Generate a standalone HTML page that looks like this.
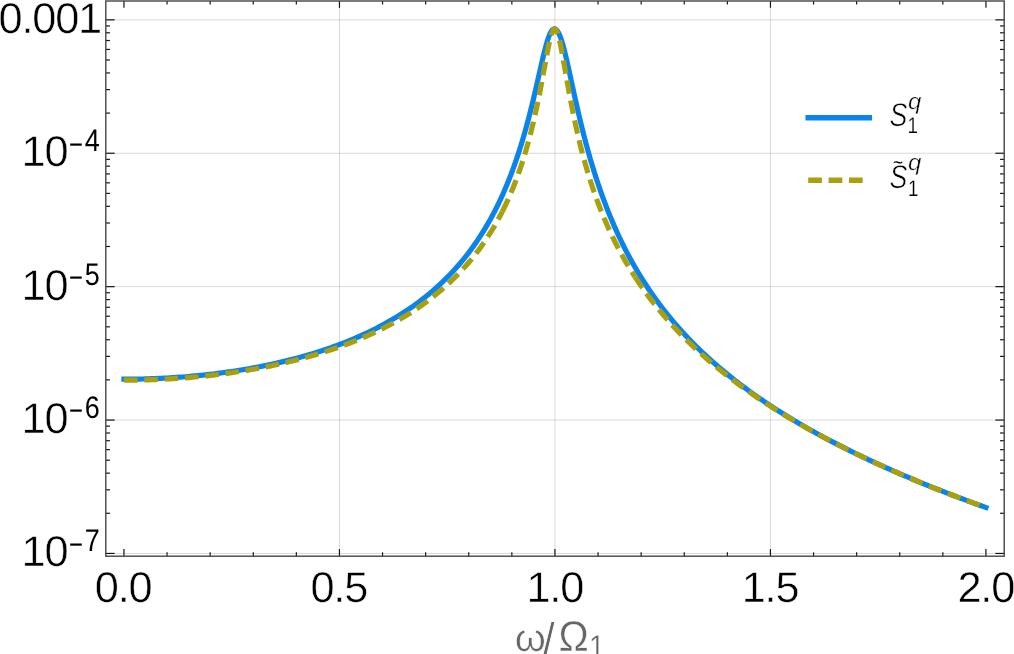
<!DOCTYPE html>
<html><head><meta charset="utf-8"><title>plot</title>
<style>html,body{margin:0;padding:0;background:#fff}svg{display:block}text{font-family:"Liberation Sans",sans-serif;fill:#000;text-rendering:geometricPrecision}</style></head><body>
<svg width="1014" height="654" viewBox="0 0 1014 654">
<rect width="1014" height="654" fill="#fff"/>
<g stroke="#000" stroke-opacity="0.15" stroke-width="1" fill="none">
<line x1="339.45" y1="1.00" x2="339.45" y2="556.20"/>
<line x1="554.95" y1="1.00" x2="554.95" y2="556.20"/>
<line x1="770.45" y1="1.00" x2="770.45" y2="556.20"/>
<line x1="105.80" y1="553.45" x2="1004.20" y2="553.45"/>
<line x1="105.80" y1="420.05" x2="1004.20" y2="420.05"/>
<line x1="105.80" y1="286.65" x2="1004.20" y2="286.65"/>
<line x1="105.80" y1="153.25" x2="1004.20" y2="153.25"/>
<line x1="105.80" y1="19.85" x2="1004.20" y2="19.85"/>
</g>
<path d="M123.95 379.19 L127.03 379.19 L130.11 379.17 L133.19 379.14 L136.26 379.10 L139.34 379.04 L142.42 378.98 L145.50 378.90 L148.58 378.80 L151.66 378.70 L154.74 378.58 L157.81 378.46 L160.89 378.32 L163.97 378.16 L167.05 378.00 L170.13 377.82 L173.21 377.63 L176.29 377.42 L179.36 377.21 L182.44 376.98 L185.52 376.73 L188.60 376.48 L191.68 376.21 L194.76 375.93 L197.84 375.63 L200.91 375.33 L203.99 375.01 L207.07 374.67 L210.15 374.32 L213.23 373.96 L216.31 373.58 L219.39 373.19 L222.46 372.79 L225.54 372.37 L228.62 371.93 L231.70 371.48 L234.78 371.02 L237.86 370.54 L240.94 370.05 L244.01 369.54 L247.09 369.01 L250.17 368.47 L253.25 367.91 L256.33 367.34 L259.41 366.75 L262.49 366.14 L265.56 365.52 L268.64 364.88 L271.72 364.22 L274.80 363.54 L277.88 362.84 L280.96 362.13 L284.04 361.40 L287.11 360.65 L290.19 359.87 L293.27 359.08 L296.35 358.27 L299.43 357.44 L302.51 356.59 L305.59 355.71 L308.66 354.81 L311.74 353.89 L314.82 352.95 L317.90 351.98 L320.98 350.99 L324.06 349.98 L327.14 348.94 L330.21 347.87 L333.29 346.78 L336.37 345.66 L339.45 344.51 L342.53 343.34 L345.61 342.13 L348.69 340.90 L351.76 339.63 L354.84 338.33 L357.92 337.00 L361.00 335.63 L364.08 334.23 L367.16 332.80 L370.24 331.32 L373.31 329.81 L376.39 328.26 L379.47 326.67 L382.55 325.04 L385.63 323.36 L388.71 321.64 L391.79 319.87 L394.86 318.05 L397.94 316.18 L401.02 314.26 L404.10 312.28 L407.18 310.25 L410.26 308.16 L413.34 306.01 L416.41 303.79 L419.49 301.51 L422.57 299.15 L425.65 296.73 L428.73 294.22 L431.81 291.64 L434.89 288.97 L437.96 286.21 L441.04 283.36 L444.12 280.42 L447.20 277.37 L450.28 274.21 L453.36 270.93 L456.44 267.53 L459.51 264.01 L462.59 260.34 L465.67 256.54 L468.75 252.57 L471.83 248.44 L474.91 244.13 L477.99 239.63 L481.06 234.93 L484.14 230.00 L487.22 224.84 L490.30 219.43 L490.62 218.84 L490.95 218.25 L491.27 217.66 L491.60 217.06 L491.92 216.47 L492.24 215.86 L492.57 215.26 L492.89 214.65 L493.22 214.04 L493.54 213.42 L493.86 212.81 L494.19 212.18 L494.51 211.56 L494.84 210.93 L495.16 210.30 L495.48 209.66 L495.81 209.02 L496.13 208.38 L496.46 207.74 L496.78 207.09 L497.11 206.43 L497.43 205.78 L497.75 205.12 L498.08 204.45 L498.40 203.78 L498.73 203.11 L499.05 202.43 L499.37 201.75 L499.70 201.07 L500.02 200.38 L500.35 199.69 L500.67 198.99 L500.99 198.29 L501.32 197.59 L501.64 196.88 L501.97 196.17 L502.29 195.45 L502.61 194.73 L502.94 194.00 L503.26 193.27 L503.59 192.54 L503.91 191.80 L504.23 191.06 L504.56 190.31 L504.88 189.56 L505.21 188.80 L505.53 188.04 L505.85 187.27 L506.18 186.50 L506.50 185.73 L506.83 184.94 L507.15 184.16 L507.48 183.37 L507.80 182.57 L508.12 181.77 L508.45 180.97 L508.77 180.15 L509.10 179.34 L509.42 178.52 L509.74 177.69 L510.07 176.86 L510.39 176.02 L510.72 175.18 L511.04 174.33 L511.36 173.47 L511.69 172.61 L512.01 171.75 L512.34 170.88 L512.66 170.00 L512.98 169.12 L513.31 168.23 L513.63 167.33 L513.96 166.43 L514.28 165.52 L514.60 164.61 L514.93 163.69 L515.25 162.76 L515.58 161.83 L515.90 160.89 L516.22 159.95 L516.55 159.00 L516.87 158.04 L517.20 157.07 L517.52 156.10 L517.85 155.12 L518.17 154.14 L518.49 153.15 L518.82 152.15 L519.14 151.14 L519.47 150.13 L519.79 149.11 L520.11 148.08 L520.44 147.05 L520.76 146.00 L521.09 144.95 L521.41 143.90 L521.73 142.83 L522.06 141.76 L522.38 140.68 L522.71 139.59 L523.03 138.50 L523.35 137.40 L523.68 136.29 L524.00 135.17 L524.33 134.04 L524.65 132.91 L524.97 131.76 L525.30 130.61 L525.62 129.45 L525.95 128.29 L526.27 127.11 L526.59 125.93 L526.92 124.74 L527.24 123.54 L527.57 122.33 L527.89 121.11 L528.22 119.88 L528.54 118.65 L528.86 117.41 L529.19 116.16 L529.51 114.90 L529.84 113.63 L530.16 112.36 L530.48 111.08 L530.81 109.79 L531.13 108.49 L531.46 107.18 L531.78 105.86 L532.10 104.54 L532.43 103.21 L532.75 101.87 L533.08 100.52 L533.40 99.17 L533.72 97.81 L534.05 96.44 L534.37 95.07 L534.70 93.69 L535.02 92.30 L535.34 90.91 L535.67 89.51 L535.99 88.11 L536.32 86.70 L536.64 85.28 L536.96 83.87 L537.29 82.44 L537.61 81.02 L537.94 79.59 L538.26 78.16 L538.58 76.73 L538.91 75.30 L539.23 73.86 L539.56 72.43 L539.88 71.00 L540.21 69.57 L540.53 68.15 L540.85 66.72 L541.18 65.31 L541.50 63.90 L541.83 62.49 L542.15 61.09 L542.47 59.71 L542.80 58.33 L543.12 56.97 L543.45 55.62 L543.77 54.28 L544.09 52.96 L544.42 51.66 L544.74 50.37 L545.07 49.11 L545.39 47.87 L545.71 46.66 L546.04 45.47 L546.36 44.31 L546.69 43.18 L547.01 42.08 L547.33 41.01 L547.66 39.98 L547.98 38.99 L548.31 38.03 L548.63 37.12 L548.95 36.24 L549.28 35.41 L549.60 34.63 L549.93 33.89 L550.25 33.20 L550.58 32.56 L550.90 31.96 L551.22 31.42 L551.55 30.93 L551.87 30.50 L552.20 30.11 L552.52 29.78 L552.84 29.51 L553.17 29.28 L553.49 29.11 L553.82 28.99 L554.14 28.93 L554.46 28.91 L554.79 28.95 L555.11 29.04 L555.44 29.17 L555.76 29.35 L556.08 29.57 L556.41 29.85 L556.73 30.17 L557.06 30.54 L557.38 30.95 L557.70 31.42 L558.03 31.93 L558.35 32.49 L558.68 33.10 L559.00 33.75 L559.32 34.45 L559.65 35.19 L559.97 35.98 L560.30 36.82 L560.62 37.69 L560.95 38.61 L561.27 39.56 L561.59 40.55 L561.92 41.58 L562.24 42.65 L562.57 43.75 L562.89 44.88 L563.21 46.04 L563.54 47.24 L563.86 48.46 L564.19 49.70 L564.51 50.97 L564.83 52.27 L565.16 53.58 L565.48 54.92 L565.81 56.27 L566.13 57.65 L566.45 59.03 L566.78 60.44 L567.10 61.85 L567.43 63.28 L567.75 64.72 L568.07 66.17 L568.40 67.63 L568.72 69.09 L569.05 70.56 L569.37 72.04 L569.69 73.52 L570.02 75.01 L570.34 76.50 L570.67 77.99 L570.99 79.48 L571.32 80.97 L571.64 82.46 L571.96 83.96 L572.29 85.45 L572.61 86.94 L572.94 88.42 L573.26 89.91 L573.58 91.39 L573.91 92.86 L574.23 94.34 L574.56 95.81 L574.88 97.27 L575.20 98.73 L575.53 100.19 L575.85 101.63 L576.18 103.08 L576.50 104.51 L576.82 105.94 L577.15 107.37 L577.47 108.78 L577.80 110.19 L578.12 111.60 L578.44 112.99 L578.77 114.38 L579.09 115.77 L579.42 117.14 L579.74 118.51 L580.06 119.87 L580.39 121.22 L580.71 122.56 L581.04 123.90 L581.36 125.23 L581.68 126.55 L582.01 127.87 L582.33 129.17 L582.66 130.47 L582.98 131.76 L583.31 133.04 L583.63 134.32 L583.95 135.58 L584.28 136.84 L584.60 138.10 L584.93 139.34 L585.25 140.58 L585.57 141.80 L585.90 143.03 L586.22 144.24 L586.55 145.44 L586.87 146.64 L587.19 147.83 L587.52 149.02 L587.84 150.19 L588.17 151.36 L588.49 152.52 L588.81 153.68 L589.14 154.82 L589.46 155.96 L589.79 157.10 L590.11 158.22 L590.43 159.34 L590.76 160.45 L591.08 161.56 L591.41 162.65 L591.73 163.75 L592.05 164.83 L592.38 165.91 L592.70 166.98 L593.03 168.04 L593.35 169.10 L593.68 170.15 L594.00 171.20 L594.32 172.24 L594.65 173.27 L594.97 174.30 L595.30 175.32 L595.62 176.33 L595.94 177.34 L596.27 178.34 L596.59 179.34 L596.92 180.33 L597.24 181.31 L597.56 182.29 L597.89 183.26 L598.21 184.23 L598.54 185.19 L598.86 186.15 L599.18 187.10 L599.51 188.04 L599.83 188.98 L600.16 189.92 L600.48 190.85 L600.80 191.77 L601.13 192.69 L601.45 193.60 L601.78 194.51 L602.10 195.41 L602.42 196.31 L602.75 197.20 L603.07 198.09 L603.40 198.97 L603.72 199.85 L604.05 200.72 L604.37 201.59 L604.69 202.46 L605.02 203.31 L605.34 204.17 L605.67 205.02 L605.99 205.86 L606.31 206.71 L606.64 207.54 L606.96 208.37 L607.29 209.20 L607.61 210.02 L607.93 210.84 L608.26 211.66 L608.58 212.47 L608.91 213.27 L609.23 214.08 L609.55 214.87 L609.88 215.67 L610.20 216.46 L610.53 217.24 L610.85 218.02 L611.17 218.80 L611.50 219.58 L611.82 220.35 L612.15 221.11 L612.47 221.87 L612.79 222.63 L613.12 223.39 L613.44 224.14 L613.77 224.89 L614.09 225.63 L614.42 226.37 L614.74 227.11 L615.06 227.84 L615.39 228.57 L615.71 229.30 L616.04 230.02 L616.36 230.74 L616.68 231.45 L617.01 232.17 L617.33 232.88 L617.66 233.58 L617.98 234.28 L618.30 234.98 L618.63 235.68 L618.95 236.37 L619.28 237.06 L619.60 237.75 L622.06 242.86 L624.52 247.79 L626.98 252.57 L629.43 257.20 L631.89 261.69 L634.35 266.04 L636.81 270.27 L639.27 274.38 L641.73 278.37 L644.19 282.26 L646.65 286.04 L649.10 289.73 L651.56 293.32 L654.02 296.83 L656.48 300.25 L658.94 303.58 L661.40 306.85 L663.86 310.03 L666.32 313.15 L668.77 316.20 L671.23 319.19 L673.69 322.11 L676.15 324.98 L678.61 327.78 L681.07 330.53 L683.53 333.23 L685.99 335.88 L688.44 338.48 L690.90 341.03 L693.36 343.53 L695.82 346.00 L698.28 348.42 L700.74 350.79 L703.20 353.13 L705.66 355.43 L708.11 357.70 L710.57 359.93 L713.03 362.12 L715.49 364.28 L717.95 366.41 L720.41 368.51 L722.87 370.57 L725.33 372.61 L727.78 374.62 L730.24 376.60 L732.70 378.55 L735.16 380.48 L737.62 382.38 L740.08 384.26 L742.54 386.11 L744.99 387.94 L747.45 389.75 L749.91 391.54 L752.37 393.30 L754.83 395.05 L757.29 396.77 L759.75 398.47 L762.21 400.16 L764.66 401.82 L767.12 403.47 L769.58 405.10 L772.04 406.71 L774.50 408.31 L776.96 409.88 L779.42 411.45 L781.88 412.99 L784.33 414.52 L786.79 416.04 L789.25 417.54 L791.71 419.03 L794.17 420.50 L796.63 421.96 L799.09 423.40 L801.55 424.84 L804.00 426.26 L806.46 427.66 L808.92 429.06 L811.38 430.44 L813.84 431.81 L816.30 433.17 L818.76 434.52 L821.22 435.85 L823.67 437.18 L826.13 438.49 L828.59 439.79 L831.05 441.09 L833.51 442.37 L835.97 443.64 L838.43 444.91 L840.89 446.16 L843.34 447.41 L845.80 448.64 L848.26 449.87 L850.72 451.08 L853.18 452.29 L855.64 453.49 L858.10 454.68 L860.56 455.87 L863.01 457.04 L865.47 458.21 L867.93 459.37 L870.39 460.52 L872.85 461.66 L875.31 462.80 L877.77 463.92 L880.22 465.04 L882.68 466.16 L885.14 467.26 L887.60 468.36 L890.06 469.46 L892.52 470.54 L894.98 471.62 L897.44 472.69 L899.89 473.76 L902.35 474.82 L904.81 475.87 L907.27 476.92 L909.73 477.96 L912.19 478.99 L914.65 480.02 L917.11 481.04 L919.56 482.06 L922.02 483.07 L924.48 484.07 L926.94 485.07 L929.40 486.07 L931.86 487.05 L934.32 488.04 L936.78 489.02 L939.23 489.99 L941.69 490.95 L944.15 491.92 L946.61 492.87 L949.07 493.83 L951.53 494.77 L953.99 495.71 L956.45 496.65 L958.90 497.58 L961.36 498.51 L963.82 499.43 L966.28 500.35 L968.74 501.27 L971.20 502.17 L973.66 503.08 L976.12 503.98 L978.57 504.88 L981.03 505.77 L983.49 506.65 L985.95 507.54" fill="none" stroke="#0a84ec" stroke-width="5.2" stroke-linecap="square" stroke-linejoin="round"/>
<path d="M123.95 380.18 L127.03 380.18 L130.11 380.16 L133.19 380.13 L136.26 380.09 L139.34 380.04 L142.42 379.97 L145.50 379.89 L148.58 379.80 L151.66 379.70 L154.74 379.59 L157.81 379.47 L160.89 379.33 L163.97 379.18 L167.05 379.02 L170.13 378.85 L173.21 378.66 L176.29 378.46 L179.36 378.25 L182.44 378.03 L185.52 377.80 L188.60 377.55 L191.68 377.29 L194.76 377.02 L197.84 376.73 L200.91 376.43 L203.99 376.12 L207.07 375.80 L210.15 375.46 L213.23 375.11 L216.31 374.74 L219.39 374.37 L222.46 373.97 L225.54 373.57 L228.62 373.15 L231.70 372.71 L234.78 372.27 L237.86 371.80 L240.94 371.33 L244.01 370.84 L247.09 370.33 L250.17 369.81 L253.25 369.27 L256.33 368.72 L259.41 368.15 L262.49 367.56 L265.56 366.96 L268.64 366.35 L271.72 365.71 L274.80 365.06 L277.88 364.40 L280.96 363.71 L284.04 363.01 L287.11 362.29 L290.19 361.55 L293.27 360.79 L296.35 360.01 L299.43 359.21 L302.51 358.40 L305.59 357.56 L308.66 356.71 L311.74 355.83 L314.82 354.93 L317.90 354.01 L320.98 353.06 L324.06 352.10 L327.14 351.11 L330.21 350.10 L333.29 349.06 L336.37 348.00 L339.45 346.91 L342.53 345.80 L345.61 344.65 L348.69 343.49 L351.76 342.29 L354.84 341.07 L357.92 339.81 L361.00 338.52 L364.08 337.21 L367.16 335.86 L370.24 334.48 L373.31 333.06 L376.39 331.61 L379.47 330.12 L382.55 328.59 L385.63 327.02 L388.71 325.42 L391.79 323.77 L394.86 322.08 L397.94 320.35 L401.02 318.57 L404.10 316.74 L407.18 314.86 L410.26 312.93 L413.34 310.94 L416.41 308.90 L419.49 306.80 L422.57 304.64 L425.65 302.42 L428.73 300.13 L431.81 297.77 L434.89 295.33 L437.96 292.82 L441.04 290.23 L444.12 287.56 L447.20 284.79 L450.28 281.93 L453.36 278.97 L456.44 275.91 L459.51 272.74 L462.59 269.44 L465.67 266.02 L468.75 262.47 L471.83 258.77 L474.91 254.92 L477.99 250.90 L481.06 246.70 L484.14 242.32 L487.22 237.72 L490.30 232.90 L490.62 232.38 L490.95 231.85 L491.27 231.33 L491.60 230.80 L491.92 230.26 L492.24 229.73 L492.57 229.19 L492.89 228.65 L493.22 228.10 L493.54 227.56 L493.86 227.01 L494.19 226.45 L494.51 225.90 L494.84 225.34 L495.16 224.78 L495.48 224.21 L495.81 223.64 L496.13 223.07 L496.46 222.49 L496.78 221.92 L497.11 221.33 L497.43 220.75 L497.75 220.16 L498.08 219.57 L498.40 218.97 L498.73 218.37 L499.05 217.77 L499.37 217.17 L499.70 216.56 L500.02 215.94 L500.35 215.33 L500.67 214.71 L500.99 214.08 L501.32 213.46 L501.64 212.82 L501.97 212.19 L502.29 211.55 L502.41 211.31" fill="none" stroke="#a9a00d" stroke-width="5.2" stroke-dasharray="13.6 6.76" stroke-linejoin="round"/>
<path d="M502.41 211.31 L502.61 210.91 L502.94 210.26 L503.26 209.61 L503.59 208.95 L503.91 208.29 L504.23 207.63 L504.56 206.96 L504.88 206.29 L505.21 205.61 L505.53 204.93 L505.85 204.25 L506.18 203.56 L506.50 202.86 L506.83 202.16 L507.15 201.46 L507.48 200.75 L507.80 200.04 L508.12 199.32 L508.45 198.60 L508.77 197.87 L509.10 197.14 L509.42 196.40 L509.74 195.66 L510.07 194.91 L510.39 194.16 L510.72 193.40 L511.04 192.64 L511.36 191.87 L511.69 191.10 L512.01 190.32 L512.34 189.53 L512.66 188.74 L512.98 187.94 L513.31 187.14 L513.63 186.33 L513.96 185.52 L514.28 184.70 L514.60 183.87 L514.93 183.04 L515.25 182.20 L515.58 181.36 L515.90 180.51 L516.22 179.65 L516.55 178.78 L516.87 177.91 L517.20 177.03 L517.52 176.15 L517.85 175.26 L518.17 174.36 L518.49 173.45 L518.82 172.54 L519.14 171.62 L519.47 170.69 L519.79 169.75 L520.11 168.81 L520.44 167.86 L520.76 166.90 L521.09 165.93 L521.41 164.96 L521.73 163.97 L522.06 162.98 L522.38 161.98 L522.71 160.97 L523.03 159.96 L523.35 158.93 L523.68 157.90 L524.00 156.85 L524.33 155.80 L524.65 154.74 L524.97 153.67 L525.30 152.58 L525.62 151.49 L525.95 150.39 L526.27 149.28 L526.59 148.16 L526.92 147.03 L527.24 145.89 L527.57 144.74 L527.89 143.57 L528.22 142.40 L528.54 141.21 L528.86 140.02 L529.19 138.81 L529.51 137.59 L529.84 136.36 L530.16 135.12 L530.48 133.87 L530.81 132.60 L531.13 131.32 L531.46 130.03 L531.78 128.73 L532.10 127.42 L532.43 126.09 L532.75 124.75 L533.08 123.39 L533.40 122.03 L533.72 120.65 L534.05 119.25 L534.37 117.85 L534.70 116.43 L535.02 114.99 L535.34 113.54 L535.67 112.08 L535.99 110.60 L536.32 109.11 L536.64 107.61 L536.96 106.09 L537.29 104.56 L537.61 103.01 L537.94 101.45 L538.26 99.88 L538.58 98.29 L538.91 96.69 L539.23 95.07 L539.56 93.44 L539.88 91.80 L540.21 90.15 L540.53 88.48 L540.85 86.80 L541.18 85.11 L541.50 83.41 L541.83 81.70 L542.15 79.98 L542.47 78.25 L542.80 76.51 L543.12 74.76 L543.45 73.01 L543.77 71.26 L544.09 69.50 L544.42 67.74 L544.74 65.98 L545.07 64.22 L545.39 62.46 L545.71 60.71 L546.04 58.97 L546.36 57.24 L546.69 55.53 L547.01 53.83 L547.33 52.15 L547.66 50.49 L547.98 48.87 L548.31 47.27 L548.63 45.71 L548.95 44.19 L549.28 42.71 L549.60 41.28 L549.93 39.90 L550.25 38.58 L550.58 37.33 L550.90 36.15 L551.22 35.04 L551.55 34.00 L551.87 33.06 L552.20 32.20 L552.52 31.43 L552.84 30.76 L553.17 30.19 L553.49 29.73 L553.82 29.37 L554.14 29.12 L554.46 28.98 L554.79 28.96 L555.11 29.05 L555.44 29.25 L555.76 29.56 L556.08 29.98 L556.41 30.50 L556.73 31.14 L557.06 31.87 L557.38 32.70 L557.70 33.63 L558.03 34.64 L558.35 35.74 L558.68 36.93 L559.00 38.18 L559.32 39.51 L559.65 40.90 L559.97 42.35 L560.30 43.85 L560.62 45.41 L560.95 47.01 L561.27 48.65 L561.59 50.32 L561.92 52.03 L562.24 53.77 L562.57 55.53 L562.89 57.31 L563.21 59.11 L563.54 60.93 L563.86 62.75 L564.19 64.59 L564.51 66.43 L564.83 68.27 L565.16 70.12 L565.48 71.97 L565.81 73.81 L566.13 75.66 L566.45 77.50 L566.78 79.33 L567.10 81.16 L567.43 82.98 L567.75 84.79 L568.07 86.59 L568.40 88.38 L568.72 90.16 L569.05 91.93 L569.37 93.68 L569.69 95.43 L570.02 97.16 L570.34 98.88 L570.67 100.58 L570.99 102.28 L571.32 103.96 L571.64 105.62 L571.96 107.27 L572.29 108.91 L572.61 110.53 L572.94 112.14 L573.26 113.73 L573.58 115.31 L573.91 116.88 L574.23 118.43 L574.56 119.97 L574.88 121.50 L575.20 123.01 L575.53 124.51 L575.85 125.99 L576.18 127.46 L576.50 128.92 L576.82 130.36 L577.15 131.79 L577.47 133.21 L577.80 134.61 L578.12 136.01 L578.44 137.39 L578.77 138.76 L579.09 140.11 L579.42 141.45 L579.74 142.79 L580.06 144.11 L580.39 145.41 L580.71 146.71 L581.04 148.00 L581.36 149.27 L581.68 150.53 L582.01 151.79 L582.33 153.03 L582.66 154.26 L582.98 155.48 L583.31 156.69 L583.63 157.89 L583.95 159.08 L584.28 160.26 L584.60 161.43 L584.93 162.59 L585.25 163.75 L585.57 164.89 L585.90 166.02 L586.22 167.14 L586.55 168.26 L586.87 169.37 L587.19 170.46 L587.52 171.55 L587.84 172.63 L588.17 173.71 L588.49 174.77 L588.81 175.83 L589.14 176.87 L589.46 177.91 L589.79 178.95 L590.11 179.97 L590.43 180.99 L590.76 182.00 L591.08 183.00 L591.41 184.00 L591.73 184.98 L592.05 185.96 L592.38 186.94 L592.70 187.91 L593.03 188.87 L593.35 189.82 L593.68 190.77 L594.00 191.71 L594.32 192.64 L594.65 193.57 L594.97 194.49 L595.30 195.40 L595.62 196.31 L595.94 197.22 L596.27 198.11 L596.59 199.00 L596.92 199.89 L597.24 200.77 L597.56 201.64 L597.89 202.51 L598.21 203.37 L598.54 204.23 L598.86 205.08 L599.18 205.93 L599.51 206.77 L599.83 207.60 L600.16 208.44 L600.48 209.26 L600.80 210.08 L601.13 210.90 L601.45 211.71 L601.78 212.51 L602.10 213.32 L602.42 214.11 L602.75 214.90 L603.07 215.69 L603.40 216.47 L603.72 217.25 L604.05 218.03 L604.37 218.79 L604.69 219.56 L605.02 220.32 L605.34 221.08 L605.67 221.83 L605.99 222.58 L606.31 223.32 L606.64 224.06 L606.96 224.80 L607.29 225.53 L607.61 226.26 L607.93 226.98 L608.26 227.70 L608.58 228.42 L608.91 229.13 L609.23 229.84 L609.55 230.54 L609.88 231.24 L610.20 231.94 L610.53 232.63 L610.85 233.33 L611.17 234.01 L611.50 234.70 L611.82 235.38 L612.15 236.05 L612.47 236.73 L612.79 237.40 L613.12 238.06 L613.44 238.73 L613.77 239.39 L614.09 240.04 L614.42 240.70 L614.74 241.35 L615.06 242.00 L615.39 242.64 L615.71 243.28 L616.04 243.92 L616.36 244.55 L616.68 245.19 L617.01 245.82 L617.33 246.44 L617.66 247.07 L617.98 247.69 L618.30 248.31 L618.63 248.92 L618.95 249.53 L619.28 250.14 L619.60 250.75 L622.06 255.27 L624.52 259.64 L626.98 263.88 L629.43 267.99 L631.89 271.98 L634.35 275.86 L634.89 276.69" fill="none" stroke="#a9a00d" stroke-width="5.2" stroke-dasharray="13.6 6.76" stroke-linejoin="round"/>
<path d="M634.89 276.69 L636.81 279.63 L639.27 283.31 L641.73 286.89 L644.19 290.37 L646.65 293.78 L649.10 297.10 L651.56 300.34 L654.02 303.52 L656.48 306.62 L658.94 309.66 L661.40 312.63 L663.86 315.54 L666.32 318.40 L668.77 321.19 L671.23 323.94 L673.69 326.63 L676.15 329.28 L678.61 331.88 L681.07 334.43 L683.53 336.94 L685.99 339.40 L688.44 341.83 L690.90 344.21 L693.36 346.56 L695.82 348.87 L698.28 351.15 L700.74 353.39 L703.20 355.60 L705.66 357.78 L708.11 359.92 L710.57 362.04 L713.03 364.12 L715.49 366.18 L717.95 368.21 L720.41 370.22 L722.87 372.20 L725.33 374.15 L727.78 376.08 L730.24 377.98 L732.70 379.86 L735.16 381.72 L737.62 383.56 L740.08 385.38 L742.54 387.17 L744.99 388.95 L747.45 390.70 L749.91 392.43 L752.37 394.15 L754.83 395.85 L757.29 397.53 L759.75 399.19 L762.21 400.84 L764.66 402.47 L767.12 404.08 L769.58 405.67 L772.04 407.25 L774.50 408.82 L776.96 410.37 L779.42 411.90 L781.88 413.42 L784.33 414.93 L786.79 416.42 L789.25 417.90 L791.71 419.37 L794.17 420.82 L796.63 422.26 L799.09 423.69 L801.55 425.11 L804.00 426.51 L806.46 427.90 L808.92 429.28 L811.38 430.65 L813.84 432.01 L816.30 433.36 L818.76 434.69 L821.22 436.02 L823.67 437.33 L826.13 438.64 L828.59 439.93 L831.05 441.22 L833.51 442.49 L835.97 443.76 L838.43 445.02 L840.89 446.26 L843.34 447.50 L845.80 448.73 L848.26 449.95 L850.72 451.16 L853.18 452.37 L855.64 453.56 L858.10 454.75 L860.56 455.93 L863.01 457.10 L865.47 458.26 L867.93 459.42 L870.39 460.56 L872.85 461.70 L875.31 462.84 L877.77 463.96 L880.22 465.08 L882.68 466.19 L885.14 467.30 L887.60 468.39 L890.06 469.48 L892.52 470.57 L894.98 471.64 L897.44 472.71 L899.89 473.78 L902.35 474.84 L904.81 475.89 L907.27 476.93 L909.73 477.97 L912.19 479.01 L914.65 480.03 L917.11 481.05 L919.56 482.07 L922.02 483.08 L924.48 484.08 L926.94 485.08 L929.40 486.08 L931.86 487.06 L934.32 488.05 L936.78 489.02 L939.23 489.99 L941.69 490.96 L944.15 491.92 L946.61 492.88 L949.07 493.83 L951.53 494.78 L953.99 495.72 L956.45 496.66 L958.90 497.59 L961.36 498.51 L963.82 499.44 L966.28 500.36 L968.74 501.27 L971.20 502.18 L973.66 503.08 L976.12 503.98 L978.57 504.88 L981.03 505.77 L983.49 506.66 L985.95 507.54" fill="none" stroke="#a9a00d" stroke-width="5.2" stroke-dasharray="13.6 6.76" stroke-linejoin="round"/>
<g stroke="#151515" stroke-width="1.2" fill="none">
<line x1="123.95" y1="1.00" x2="123.95" y2="7.80"/>
<line x1="123.95" y1="556.20" x2="123.95" y2="549.05"/>
<line x1="167.05" y1="1.00" x2="167.05" y2="4.50"/>
<line x1="167.05" y1="556.20" x2="167.05" y2="552.35"/>
<line x1="210.15" y1="1.00" x2="210.15" y2="4.50"/>
<line x1="210.15" y1="556.20" x2="210.15" y2="552.35"/>
<line x1="253.25" y1="1.00" x2="253.25" y2="4.50"/>
<line x1="253.25" y1="556.20" x2="253.25" y2="552.35"/>
<line x1="296.35" y1="1.00" x2="296.35" y2="4.50"/>
<line x1="296.35" y1="556.20" x2="296.35" y2="552.35"/>
<line x1="339.45" y1="1.00" x2="339.45" y2="7.80"/>
<line x1="339.45" y1="556.20" x2="339.45" y2="549.05"/>
<line x1="382.55" y1="1.00" x2="382.55" y2="4.50"/>
<line x1="382.55" y1="556.20" x2="382.55" y2="552.35"/>
<line x1="425.65" y1="1.00" x2="425.65" y2="4.50"/>
<line x1="425.65" y1="556.20" x2="425.65" y2="552.35"/>
<line x1="468.75" y1="1.00" x2="468.75" y2="4.50"/>
<line x1="468.75" y1="556.20" x2="468.75" y2="552.35"/>
<line x1="511.85" y1="1.00" x2="511.85" y2="4.50"/>
<line x1="511.85" y1="556.20" x2="511.85" y2="552.35"/>
<line x1="554.95" y1="1.00" x2="554.95" y2="7.80"/>
<line x1="554.95" y1="556.20" x2="554.95" y2="549.05"/>
<line x1="598.05" y1="1.00" x2="598.05" y2="4.50"/>
<line x1="598.05" y1="556.20" x2="598.05" y2="552.35"/>
<line x1="641.15" y1="1.00" x2="641.15" y2="4.50"/>
<line x1="641.15" y1="556.20" x2="641.15" y2="552.35"/>
<line x1="684.25" y1="1.00" x2="684.25" y2="4.50"/>
<line x1="684.25" y1="556.20" x2="684.25" y2="552.35"/>
<line x1="727.35" y1="1.00" x2="727.35" y2="4.50"/>
<line x1="727.35" y1="556.20" x2="727.35" y2="552.35"/>
<line x1="770.45" y1="1.00" x2="770.45" y2="7.80"/>
<line x1="770.45" y1="556.20" x2="770.45" y2="549.05"/>
<line x1="813.55" y1="1.00" x2="813.55" y2="4.50"/>
<line x1="813.55" y1="556.20" x2="813.55" y2="552.35"/>
<line x1="856.65" y1="1.00" x2="856.65" y2="4.50"/>
<line x1="856.65" y1="556.20" x2="856.65" y2="552.35"/>
<line x1="899.75" y1="1.00" x2="899.75" y2="4.50"/>
<line x1="899.75" y1="556.20" x2="899.75" y2="552.35"/>
<line x1="942.85" y1="1.00" x2="942.85" y2="4.50"/>
<line x1="942.85" y1="556.20" x2="942.85" y2="552.35"/>
<line x1="985.95" y1="1.00" x2="985.95" y2="7.80"/>
<line x1="985.95" y1="556.20" x2="985.95" y2="549.05"/>
<line x1="105.80" y1="553.45" x2="114.65" y2="553.45"/>
<line x1="1004.20" y1="553.45" x2="995.35" y2="553.45"/>
<line x1="105.80" y1="513.29" x2="109.95" y2="513.29"/>
<line x1="1004.20" y1="513.29" x2="1000.05" y2="513.29"/>
<line x1="105.80" y1="489.80" x2="109.95" y2="489.80"/>
<line x1="1004.20" y1="489.80" x2="1000.05" y2="489.80"/>
<line x1="105.80" y1="473.14" x2="109.95" y2="473.14"/>
<line x1="1004.20" y1="473.14" x2="1000.05" y2="473.14"/>
<line x1="105.80" y1="460.21" x2="109.95" y2="460.21"/>
<line x1="1004.20" y1="460.21" x2="1000.05" y2="460.21"/>
<line x1="105.80" y1="449.64" x2="109.95" y2="449.64"/>
<line x1="1004.20" y1="449.64" x2="1000.05" y2="449.64"/>
<line x1="105.80" y1="440.71" x2="109.95" y2="440.71"/>
<line x1="1004.20" y1="440.71" x2="1000.05" y2="440.71"/>
<line x1="105.80" y1="432.98" x2="109.95" y2="432.98"/>
<line x1="1004.20" y1="432.98" x2="1000.05" y2="432.98"/>
<line x1="105.80" y1="426.15" x2="109.95" y2="426.15"/>
<line x1="1004.20" y1="426.15" x2="1000.05" y2="426.15"/>
<line x1="105.80" y1="420.05" x2="114.65" y2="420.05"/>
<line x1="1004.20" y1="420.05" x2="995.35" y2="420.05"/>
<line x1="105.80" y1="379.89" x2="109.95" y2="379.89"/>
<line x1="1004.20" y1="379.89" x2="1000.05" y2="379.89"/>
<line x1="105.80" y1="356.40" x2="109.95" y2="356.40"/>
<line x1="1004.20" y1="356.40" x2="1000.05" y2="356.40"/>
<line x1="105.80" y1="339.74" x2="109.95" y2="339.74"/>
<line x1="1004.20" y1="339.74" x2="1000.05" y2="339.74"/>
<line x1="105.80" y1="326.81" x2="109.95" y2="326.81"/>
<line x1="1004.20" y1="326.81" x2="1000.05" y2="326.81"/>
<line x1="105.80" y1="316.24" x2="109.95" y2="316.24"/>
<line x1="1004.20" y1="316.24" x2="1000.05" y2="316.24"/>
<line x1="105.80" y1="307.31" x2="109.95" y2="307.31"/>
<line x1="1004.20" y1="307.31" x2="1000.05" y2="307.31"/>
<line x1="105.80" y1="299.58" x2="109.95" y2="299.58"/>
<line x1="1004.20" y1="299.58" x2="1000.05" y2="299.58"/>
<line x1="105.80" y1="292.75" x2="109.95" y2="292.75"/>
<line x1="1004.20" y1="292.75" x2="1000.05" y2="292.75"/>
<line x1="105.80" y1="286.65" x2="114.65" y2="286.65"/>
<line x1="1004.20" y1="286.65" x2="995.35" y2="286.65"/>
<line x1="105.80" y1="246.49" x2="109.95" y2="246.49"/>
<line x1="1004.20" y1="246.49" x2="1000.05" y2="246.49"/>
<line x1="105.80" y1="223.00" x2="109.95" y2="223.00"/>
<line x1="1004.20" y1="223.00" x2="1000.05" y2="223.00"/>
<line x1="105.80" y1="206.34" x2="109.95" y2="206.34"/>
<line x1="1004.20" y1="206.34" x2="1000.05" y2="206.34"/>
<line x1="105.80" y1="193.41" x2="109.95" y2="193.41"/>
<line x1="1004.20" y1="193.41" x2="1000.05" y2="193.41"/>
<line x1="105.80" y1="182.84" x2="109.95" y2="182.84"/>
<line x1="1004.20" y1="182.84" x2="1000.05" y2="182.84"/>
<line x1="105.80" y1="173.91" x2="109.95" y2="173.91"/>
<line x1="1004.20" y1="173.91" x2="1000.05" y2="173.91"/>
<line x1="105.80" y1="166.18" x2="109.95" y2="166.18"/>
<line x1="1004.20" y1="166.18" x2="1000.05" y2="166.18"/>
<line x1="105.80" y1="159.35" x2="109.95" y2="159.35"/>
<line x1="1004.20" y1="159.35" x2="1000.05" y2="159.35"/>
<line x1="105.80" y1="153.25" x2="114.65" y2="153.25"/>
<line x1="1004.20" y1="153.25" x2="995.35" y2="153.25"/>
<line x1="105.80" y1="113.09" x2="109.95" y2="113.09"/>
<line x1="1004.20" y1="113.09" x2="1000.05" y2="113.09"/>
<line x1="105.80" y1="89.60" x2="109.95" y2="89.60"/>
<line x1="1004.20" y1="89.60" x2="1000.05" y2="89.60"/>
<line x1="105.80" y1="72.94" x2="109.95" y2="72.94"/>
<line x1="1004.20" y1="72.94" x2="1000.05" y2="72.94"/>
<line x1="105.80" y1="60.01" x2="109.95" y2="60.01"/>
<line x1="1004.20" y1="60.01" x2="1000.05" y2="60.01"/>
<line x1="105.80" y1="49.44" x2="109.95" y2="49.44"/>
<line x1="1004.20" y1="49.44" x2="1000.05" y2="49.44"/>
<line x1="105.80" y1="40.51" x2="109.95" y2="40.51"/>
<line x1="1004.20" y1="40.51" x2="1000.05" y2="40.51"/>
<line x1="105.80" y1="32.78" x2="109.95" y2="32.78"/>
<line x1="1004.20" y1="32.78" x2="1000.05" y2="32.78"/>
<line x1="105.80" y1="25.95" x2="109.95" y2="25.95"/>
<line x1="1004.20" y1="25.95" x2="1000.05" y2="25.95"/>
<line x1="105.80" y1="19.85" x2="114.65" y2="19.85"/>
<line x1="1004.20" y1="19.85" x2="995.35" y2="19.85"/>
</g>
<rect x="105.80" y="1.00" width="898.40" height="555.20" fill="none" stroke="#444" stroke-width="1.4"/>
<text transform="translate(123.20 602.00) scale(1.008 1)" font-size="43.0" text-anchor="middle" letter-spacing="-1.19" stroke="#fff" stroke-width="0.50">0.0</text>
<text transform="translate(338.80 602.00) scale(1.008 1)" font-size="43.0" text-anchor="middle" letter-spacing="-1.19" stroke="#fff" stroke-width="0.50">0.5</text>
<text transform="translate(554.80 602.00) scale(1.008 1)" font-size="43.0" text-anchor="middle" letter-spacing="-1.19" stroke="#fff" stroke-width="0.50">1.0</text>
<text transform="translate(770.00 602.00) scale(1.008 1)" font-size="43.0" text-anchor="middle" letter-spacing="-1.19" stroke="#fff" stroke-width="0.50">1.5</text>
<text transform="translate(985.80 602.00) scale(1.008 1)" font-size="43.0" text-anchor="middle" letter-spacing="-1.19" stroke="#fff" stroke-width="0.50">2.0</text>
<text transform="translate(-1.50 32.90) scale(1.008 1)" font-size="43.0" text-anchor="start" letter-spacing="-1.19" stroke="#fff" stroke-width="0.50">0.001</text>
<text transform="translate(67.30 166.25) scale(1.008 1)" font-size="43.0" text-anchor="end" letter-spacing="-1.19" stroke="#fff" stroke-width="0.50">10</text>
<text transform="translate(69.10 154.65) scale(0.763 1)" font-size="31.3" text-anchor="start">−</text>
<text transform="translate(84.66 151.25) scale(0.862 1)" font-size="31.3" text-anchor="start">4</text>
<text transform="translate(67.30 299.65) scale(1.008 1)" font-size="43.0" text-anchor="end" letter-spacing="-1.19" stroke="#fff" stroke-width="0.50">10</text>
<text transform="translate(69.10 288.05) scale(0.763 1)" font-size="31.3" text-anchor="start">−</text>
<text transform="translate(84.66 284.65) scale(0.862 1)" font-size="31.3" text-anchor="start">5</text>
<text transform="translate(67.30 433.05) scale(1.008 1)" font-size="43.0" text-anchor="end" letter-spacing="-1.19" stroke="#fff" stroke-width="0.50">10</text>
<text transform="translate(69.10 421.45) scale(0.763 1)" font-size="31.3" text-anchor="start">−</text>
<text transform="translate(84.66 418.05) scale(0.862 1)" font-size="31.3" text-anchor="start">6</text>
<text transform="translate(67.30 566.45) scale(1.008 1)" font-size="43.0" text-anchor="end" letter-spacing="-1.19" stroke="#fff" stroke-width="0.50">10</text>
<text transform="translate(69.10 554.85) scale(0.763 1)" font-size="31.3" text-anchor="start">−</text>
<text transform="translate(84.66 551.45) scale(0.862 1)" font-size="31.3" text-anchor="start">7</text>
<text transform="translate(514.80 651.20) scale(1.025 1)" font-size="38.9" text-anchor="start" stroke="#fff" stroke-width="0.50" style="fill:#666">ω</text>
<text transform="translate(541.00 661.50) scale(0.900 1)" font-size="56.0" text-anchor="start" stroke="#fff" stroke-width="1.00" style="fill:#666">/</text>
<text transform="translate(558.60 651.30) scale(0.940 1)" font-size="43.1" text-anchor="start" stroke="#fff" stroke-width="0.50" style="fill:#666">Ω</text>
<text transform="translate(589.00 656.70) scale(0.900 1)" font-size="31.3" text-anchor="start" stroke="#fff" stroke-width="0.30" style="fill:#666">1</text>
<line x1="808.2" y1="117.7" x2="869.4" y2="117.7" stroke="#0a84ec" stroke-width="5.4" stroke-linecap="square"/>
<line x1="808.2" y1="180.2" x2="869.4" y2="180.2" stroke="#a9a00d" stroke-width="5.4" stroke-dasharray="13.7 6.7"/>
<text transform="translate(889.60 125.60) scale(0.816 1)" font-size="32.8" text-anchor="start" stroke="#fff" stroke-width="0.60" font-style="italic">S</text>
<text transform="translate(907.90 109.10) scale(1.070 1)" font-size="22.5" text-anchor="start" stroke="#fff" stroke-width="0.40" font-style="italic">q</text>
<text transform="translate(907.50 132.90) scale(0.830 1)" font-size="22.6" text-anchor="start" stroke="#fff" stroke-width="0.20">1</text>
<text transform="translate(889.60 188.30) scale(0.816 1)" font-size="32.8" text-anchor="start" stroke="#fff" stroke-width="0.60" font-style="italic">S</text>
<text transform="translate(907.90 169.80) scale(1.070 1)" font-size="22.5" text-anchor="start" stroke="#fff" stroke-width="0.40" font-style="italic">q</text>
<text transform="translate(908.10 195.60) scale(0.830 1)" font-size="22.6" text-anchor="start" stroke="#fff" stroke-width="0.20">1</text>
<text transform="translate(892.90 168.70) scale(0.860 1)" font-size="20.0" text-anchor="start">~</text>
</svg></body></html>
